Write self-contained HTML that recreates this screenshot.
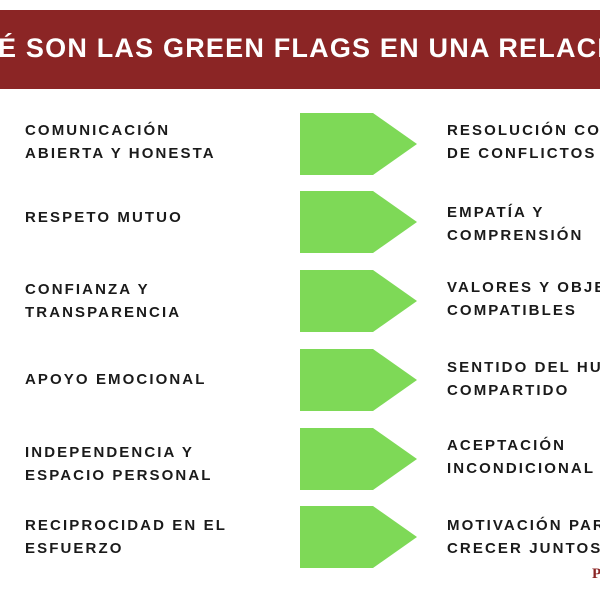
<!DOCTYPE html><html><head><meta charset="utf-8"><style>
html,body{margin:0;width:600px;height:600px;overflow:hidden}
body{background:#fff;position:relative;font-family:"Liberation Sans",sans-serif}
.ban{position:absolute;left:0;top:10px;width:600px;height:79px;background:#8b2525;overflow:hidden}
.ban span{position:absolute;left:-2px;top:23px;white-space:nowrap;color:#fff;font-weight:bold;font-size:27px;letter-spacing:1.2px}
.clip{position:absolute;left:0;top:0;width:600px;height:600px;overflow:hidden}
.t{position:absolute;font-weight:bold;font-size:15px;letter-spacing:2.1px;line-height:23px;color:#1a1a1a;white-space:nowrap}
svg{position:absolute;left:0;top:0}
</style></head><body>
<div class="ban"><span>É SON LAS GREEN FLAGS EN UNA RELACIÓN?</span></div>
<svg width="600" height="600">
<g fill="#7ed957">
<polygon points="300,113 373,113 417,144 373,175 300,175"/>
<polygon points="300,191 373,191 417,222 373,253 300,253"/>
<polygon points="300,270 373,270 417,301 373,332 300,332"/>
<polygon points="300,349 373,349 417,380 373,411 300,411"/>
<polygon points="300,428 373,428 417,459 373,490 300,490"/>
<polygon points="300,506 373,506 417,537 373,568 300,568"/>
</g></svg>
<div class="clip">
<div class="t" style="left:25px;top:119px">COMUNICACIÓN<br>ABIERTA Y HONESTA</div>
<div class="t" style="left:25px;top:206px">RESPETO MUTUO</div>
<div class="t" style="left:25px;top:278px">CONFIANZA Y<br>TRANSPARENCIA</div>
<div class="t" style="left:25px;top:368px">APOYO EMOCIONAL</div>
<div class="t" style="left:25px;top:441px">INDEPENDENCIA Y<br>ESPACIO PERSONAL</div>
<div class="t" style="left:25px;top:514px">RECIPROCIDAD EN EL<br>ESFUERZO</div>
<div class="t" style="left:447px;top:119px">RESOLUCIÓN CONSTRUCTIVA<br>DE CONFLICTOS</div>
<div class="t" style="left:447px;top:201px">EMPATÍA Y<br>COMPRENSIÓN</div>
<div class="t" style="left:447px;top:276px">VALORES Y OBJETIVOS<br>COMPATIBLES</div>
<div class="t" style="left:447px;top:356px">SENTIDO DEL HUMOR<br>COMPARTIDO</div>
<div class="t" style="left:447px;top:434px">ACEPTACIÓN<br>INCONDICIONAL</div>
<div class="t" style="left:447px;top:514px">MOTIVACIÓN PARA<br>CRECER JUNTOS</div>
<div style="position:absolute;left:592px;top:566px;color:#8b2525;font-family:'Liberation Serif',serif;font-weight:bold;font-size:15px">P</div>
</div>
</body></html>
